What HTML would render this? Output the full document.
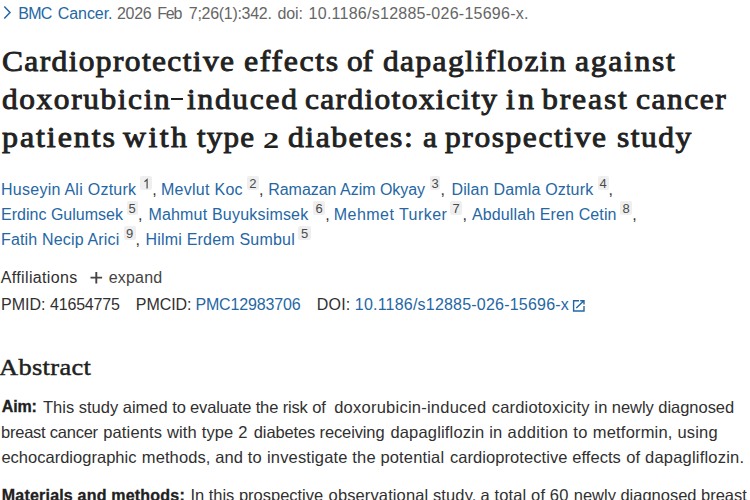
<!DOCTYPE html>
    <html><head><meta charset="utf-8">
    <style>
    html,body{margin:0;padding:0;background:#fff;width:750px;height:500px;overflow:hidden}
    body{position:relative;font-family:"Liberation Sans",sans-serif;color:#212121}
    .s{position:absolute;white-space:nowrap;line-height:0;height:0}
    .s span{display:inline-block;line-height:normal}
    .box{position:absolute;background:#efefef;border-radius:2px}
    .dg{position:absolute;font-size:13px;color:#4a4a4a;line-height:13px;white-space:nowrap}
    </style></head><body>
    
<div style="position:absolute;left:18.20px;top:5.32px;white-space:nowrap;font:normal 16px 'Liberation Sans',sans-serif;line-height:normal;color:#2567a4;letter-spacing:-0.700px;">BMC</div>
<div style="position:absolute;left:57.80px;top:5.32px;white-space:nowrap;font:normal 16px 'Liberation Sans',sans-serif;line-height:normal;color:#2567a4;letter-spacing:-0.083px;">Cancer.</div>
<div style="position:absolute;left:117.00px;top:5.32px;white-space:nowrap;font:normal 16px 'Liberation Sans',sans-serif;line-height:normal;color:#666666;letter-spacing:-0.298px;">2026</div>
<div style="position:absolute;left:157.20px;top:5.32px;white-space:nowrap;font:normal 16px 'Liberation Sans',sans-serif;line-height:normal;color:#666666;letter-spacing:-1.136px;">Feb</div>
<div style="position:absolute;left:188.80px;top:5.32px;white-space:nowrap;font:normal 16px 'Liberation Sans',sans-serif;line-height:normal;color:#666666;letter-spacing:-0.294px;">7;26(1):342.</div>
<div style="position:absolute;left:277.40px;top:5.32px;white-space:nowrap;font:normal 16px 'Liberation Sans',sans-serif;line-height:normal;color:#666666;letter-spacing:-0.117px;">doi:</div>
<div style="position:absolute;left:308.60px;top:5.32px;white-space:nowrap;font:normal 16px 'Liberation Sans',sans-serif;line-height:normal;color:#666666;letter-spacing:0.255px;">10.1186/s12885-026-15696-x.</div>
<div style="position:absolute;left:1.75px;top:43.77px;white-space:nowrap;font:normal 30px 'Liberation Serif',sans-serif;line-height:normal;color:#212121;letter-spacing:1.326px;transform-origin:0 0;transform:scaleX(1.0474);-webkit-text-stroke:0.9px #212121;">Cardioprotective</div>
<div style="position:absolute;left:243.94px;top:43.77px;white-space:nowrap;font:normal 30px 'Liberation Serif',sans-serif;line-height:normal;color:#212121;letter-spacing:1.557px;transform-origin:0 0;transform:scaleX(1.0613);-webkit-text-stroke:0.9px #212121;">effects</div>
<div style="position:absolute;left:346.56px;top:43.77px;white-space:nowrap;font:normal 30px 'Liberation Serif',sans-serif;line-height:normal;color:#212121;letter-spacing:-0.154px;transform-origin:0 0;transform:scaleX(1.0400);-webkit-text-stroke:0.9px #212121;">of</div>
<div style="position:absolute;left:382.55px;top:43.77px;white-space:nowrap;font:normal 30px 'Liberation Serif',sans-serif;line-height:normal;color:#212121;letter-spacing:1.335px;transform-origin:0 0;transform:scaleX(1.0479);-webkit-text-stroke:0.9px #212121;">dapagliflozin</div>
<div style="position:absolute;left:574.55px;top:43.77px;white-space:nowrap;font:normal 30px 'Liberation Serif',sans-serif;line-height:normal;color:#212121;letter-spacing:1.599px;transform-origin:0 0;transform:scaleX(1.0548);-webkit-text-stroke:0.9px #212121;">against</div>
<div style="position:absolute;left:1.75px;top:81.67px;white-space:nowrap;font:normal 30px 'Liberation Serif',sans-serif;line-height:normal;color:#212121;letter-spacing:1.535px;transform-origin:0 0;transform:scaleX(1.0457);-webkit-text-stroke:0.9px #212121;">doxorubicin</div>
<div style="position:absolute;left:187.20px;top:81.67px;white-space:nowrap;font:normal 30px 'Liberation Serif',sans-serif;line-height:normal;color:#212121;letter-spacing:1.685px;transform-origin:0 0;transform:scaleX(1.0450);-webkit-text-stroke:0.9px #212121;">induced</div>
<div style="position:absolute;left:305.15px;top:81.67px;white-space:nowrap;font:normal 30px 'Liberation Serif',sans-serif;line-height:normal;color:#212121;letter-spacing:1.271px;transform-origin:0 0;transform:scaleX(1.0487);-webkit-text-stroke:0.9px #212121;">cardiotoxicity</div>
<div style="position:absolute;left:506.00px;top:81.67px;white-space:nowrap;font:normal 30px 'Liberation Serif',sans-serif;line-height:normal;color:#212121;letter-spacing:3.405px;transform-origin:0 0;transform:scaleX(1.0471);-webkit-text-stroke:0.9px #212121;">in</div>
<div style="position:absolute;left:541.60px;top:81.67px;white-space:nowrap;font:normal 30px 'Liberation Serif',sans-serif;line-height:normal;color:#212121;letter-spacing:1.714px;transform-origin:0 0;transform:scaleX(1.0585);-webkit-text-stroke:0.9px #212121;">breast</div>
<div style="position:absolute;left:635.95px;top:81.67px;white-space:nowrap;font:normal 30px 'Liberation Serif',sans-serif;line-height:normal;color:#212121;letter-spacing:1.408px;transform-origin:0 0;transform:scaleX(1.0510);-webkit-text-stroke:0.9px #212121;">cancer</div>
<div style="position:absolute;left:1.60px;top:119.87px;white-space:nowrap;font:normal 30px 'Liberation Serif',sans-serif;line-height:normal;color:#212121;letter-spacing:1.790px;transform-origin:0 0;transform:scaleX(1.0669);-webkit-text-stroke:0.9px #212121;">patients</div>
<div style="position:absolute;left:123.00px;top:119.87px;white-space:nowrap;font:normal 30px 'Liberation Serif',sans-serif;line-height:normal;color:#212121;letter-spacing:2.348px;transform-origin:0 0;transform:scaleX(1.0600);-webkit-text-stroke:0.9px #212121;">with</div>
<div style="position:absolute;left:196.60px;top:119.87px;white-space:nowrap;font:normal 30px 'Liberation Serif',sans-serif;line-height:normal;color:#212121;letter-spacing:1.109px;transform-origin:0 0;transform:scaleX(1.0354);-webkit-text-stroke:0.9px #212121;">type</div>
<div style="position:absolute;left:287.94px;top:119.87px;white-space:nowrap;font:normal 30px 'Liberation Serif',sans-serif;line-height:normal;color:#212121;letter-spacing:1.426px;transform-origin:0 0;transform:scaleX(1.0567);-webkit-text-stroke:0.9px #212121;">diabetes:</div>
<div style="position:absolute;left:423.07px;top:119.87px;white-space:nowrap;font:normal 30px 'Liberation Serif',sans-serif;line-height:normal;color:#212121;letter-spacing:0.000px;transform-origin:0 0;transform:scaleX(1.0443);-webkit-text-stroke:0.9px #212121;">a</div>
<div style="position:absolute;left:444.80px;top:119.87px;white-space:nowrap;font:normal 30px 'Liberation Serif',sans-serif;line-height:normal;color:#212121;letter-spacing:1.516px;transform-origin:0 0;transform:scaleX(1.0488);-webkit-text-stroke:0.9px #212121;">prospective</div>
<div style="position:absolute;left:616.55px;top:119.87px;white-space:nowrap;font:normal 30px 'Liberation Serif',sans-serif;line-height:normal;color:#212121;letter-spacing:1.417px;transform-origin:0 0;transform:scaleX(1.0506);-webkit-text-stroke:0.9px #212121;">study</div>
<div style="position:absolute;left:263.00px;top:128.05px;white-space:nowrap;font:bold 22.5px 'Liberation Serif',sans-serif;line-height:normal;color:#212121;letter-spacing:0.000px;transform-origin:0 0;transform:scaleX(1.4318);">2</div>
<div style="position:absolute;left:1.00px;top:181.02px;white-space:nowrap;font:normal 16px 'Liberation Sans',sans-serif;line-height:normal;color:#2567a4;letter-spacing:0.259px;">Huseyin Ali Ozturk</div>
<div style="position:absolute;left:161.00px;top:181.02px;white-space:nowrap;font:normal 16px 'Liberation Sans',sans-serif;line-height:normal;color:#2567a4;letter-spacing:0.273px;">Mevlut Koc</div>
<div style="position:absolute;left:268.20px;top:181.02px;white-space:nowrap;font:normal 16px 'Liberation Sans',sans-serif;line-height:normal;color:#2567a4;letter-spacing:-0.027px;">Ramazan Azim Okyay</div>
<div style="position:absolute;left:451.40px;top:181.02px;white-space:nowrap;font:normal 16px 'Liberation Sans',sans-serif;line-height:normal;color:#2567a4;letter-spacing:0.182px;">Dilan Damla Ozturk</div>
<div style="position:absolute;left:1.00px;top:206.02px;white-space:nowrap;font:normal 16px 'Liberation Sans',sans-serif;line-height:normal;color:#2567a4;letter-spacing:0.013px;">Erdinc Gulumsek</div>
<div style="position:absolute;left:148.40px;top:206.02px;white-space:nowrap;font:normal 16px 'Liberation Sans',sans-serif;line-height:normal;color:#2567a4;letter-spacing:0.195px;">Mahmut Buyuksimsek</div>
<div style="position:absolute;left:333.80px;top:206.02px;white-space:nowrap;font:normal 16px 'Liberation Sans',sans-serif;line-height:normal;color:#2567a4;letter-spacing:0.454px;">Mehmet Turker</div>
<div style="position:absolute;left:472.00px;top:206.02px;white-space:nowrap;font:normal 16px 'Liberation Sans',sans-serif;line-height:normal;color:#2567a4;letter-spacing:0.121px;">Abdullah Eren Cetin</div>
<div style="position:absolute;left:1.00px;top:231.02px;white-space:nowrap;font:normal 16px 'Liberation Sans',sans-serif;line-height:normal;color:#2567a4;letter-spacing:0.167px;">Fatih Necip Arici</div>
<div style="position:absolute;left:145.40px;top:231.02px;white-space:nowrap;font:normal 16px 'Liberation Sans',sans-serif;line-height:normal;color:#2567a4;letter-spacing:0.208px;">Hilmi Erdem Sumbul</div>
<div style="position:absolute;left:0.80px;top:268.52px;white-space:nowrap;font:normal 16px 'Liberation Sans',sans-serif;line-height:normal;color:#303030;letter-spacing:0.342px;">Affiliations</div>
<div style="position:absolute;left:108.80px;top:268.52px;white-space:nowrap;font:normal 16px 'Liberation Sans',sans-serif;line-height:normal;color:#444;letter-spacing:0.161px;">expand</div>
<div style="position:absolute;left:1.00px;top:296.22px;white-space:nowrap;font:normal 16px 'Liberation Sans',sans-serif;line-height:normal;color:#303030;letter-spacing:0.000px;">PMID:</div>
<div style="position:absolute;left:50.00px;top:296.22px;white-space:nowrap;font:normal 16px 'Liberation Sans',sans-serif;line-height:normal;color:#303030;letter-spacing:-0.184px;">41654775</div>
<div style="position:absolute;left:135.80px;top:296.22px;white-space:nowrap;font:normal 16px 'Liberation Sans',sans-serif;line-height:normal;color:#303030;letter-spacing:-0.071px;">PMCID:</div>
<div style="position:absolute;left:195.40px;top:296.22px;white-space:nowrap;font:normal 16px 'Liberation Sans',sans-serif;line-height:normal;color:#2567a4;letter-spacing:-0.144px;">PMC12983706</div>
<div style="position:absolute;left:316.80px;top:296.22px;white-space:nowrap;font:normal 16px 'Liberation Sans',sans-serif;line-height:normal;color:#303030;letter-spacing:0.185px;">DOI:</div>
<div style="position:absolute;left:354.80px;top:296.22px;white-space:nowrap;font:normal 16px 'Liberation Sans',sans-serif;line-height:normal;color:#2567a4;letter-spacing:0.210px;">10.1186/s12885-026-15696-x</div>
<div style="position:absolute;left:-0.80px;top:353.76px;white-space:nowrap;font:normal 23.5px 'Liberation Serif',sans-serif;line-height:normal;color:#212121;letter-spacing:0.292px;transform-origin:0 0;transform:scaleX(1.1251);-webkit-text-stroke:0.45px #212121;">Abstract</div>
<div style="position:absolute;left:1.80px;top:398.32px;white-space:nowrap;font:bold 16px 'Liberation Sans',sans-serif;line-height:normal;color:#212121;letter-spacing:-0.209px;-webkit-text-stroke:0.3px #212121;">Aim:</div>
<div style="position:absolute;left:43.00px;top:397.87px;white-space:nowrap;font:normal 16.5px 'Liberation Sans',sans-serif;line-height:normal;color:#303030;letter-spacing:-0.005px;">This study aimed to</div>
<div style="position:absolute;left:190.00px;top:397.87px;white-space:nowrap;font:normal 16.5px 'Liberation Sans',sans-serif;line-height:normal;color:#303030;letter-spacing:-0.143px;">evaluate the risk of</div>
<div style="position:absolute;left:334.20px;top:397.87px;white-space:nowrap;font:normal 16.5px 'Liberation Sans',sans-serif;line-height:normal;color:#303030;letter-spacing:0.239px;">doxorubicin-induced</div>
<div style="position:absolute;left:491.80px;top:397.87px;white-space:nowrap;font:normal 16.5px 'Liberation Sans',sans-serif;line-height:normal;color:#303030;letter-spacing:0.174px;">cardiotoxicity in</div>
<div style="position:absolute;left:611.80px;top:397.87px;white-space:nowrap;font:normal 16.5px 'Liberation Sans',sans-serif;line-height:normal;color:#303030;letter-spacing:-0.039px;">newly diagnosed</div>
<div style="position:absolute;left:1.00px;top:423.07px;white-space:nowrap;font:normal 16.5px 'Liberation Sans',sans-serif;line-height:normal;color:#303030;letter-spacing:-0.239px;">breast cancer</div>
<div style="position:absolute;left:103.20px;top:423.07px;white-space:nowrap;font:normal 16.5px 'Liberation Sans',sans-serif;line-height:normal;color:#303030;letter-spacing:0.154px;">patients with type 2</div>
<div style="position:absolute;left:253.80px;top:423.07px;white-space:nowrap;font:normal 16.5px 'Liberation Sans',sans-serif;line-height:normal;color:#303030;letter-spacing:-0.131px;">diabetes receiving</div>
<div style="position:absolute;left:390.40px;top:423.07px;white-space:nowrap;font:normal 16.5px 'Liberation Sans',sans-serif;line-height:normal;color:#303030;letter-spacing:0.174px;">dapagliflozin in</div>
<div style="position:absolute;left:507.60px;top:423.07px;white-space:nowrap;font:normal 16.5px 'Liberation Sans',sans-serif;line-height:normal;color:#303030;letter-spacing:0.363px;">addition to</div>
<div style="position:absolute;left:592.80px;top:423.07px;white-space:nowrap;font:normal 16.5px 'Liberation Sans',sans-serif;line-height:normal;color:#303030;letter-spacing:0.188px;">metformin, using</div>
<div style="position:absolute;left:1.40px;top:448.27px;white-space:nowrap;font:normal 16.5px 'Liberation Sans',sans-serif;line-height:normal;color:#303030;letter-spacing:0.013px;">echocardiographic</div>
<div style="position:absolute;left:141.80px;top:448.27px;white-space:nowrap;font:normal 16.5px 'Liberation Sans',sans-serif;line-height:normal;color:#303030;letter-spacing:0.103px;">methods, and to</div>
<div style="position:absolute;left:267.00px;top:448.27px;white-space:nowrap;font:normal 16.5px 'Liberation Sans',sans-serif;line-height:normal;color:#303030;letter-spacing:0.154px;">investigate the potential</div>
<div style="position:absolute;left:450.00px;top:448.27px;white-space:nowrap;font:normal 16.5px 'Liberation Sans',sans-serif;line-height:normal;color:#303030;letter-spacing:0.064px;">cardioprotective effects</div>
<div style="position:absolute;left:626.20px;top:448.27px;white-space:nowrap;font:normal 16.5px 'Liberation Sans',sans-serif;line-height:normal;color:#303030;letter-spacing:0.195px;">of dapagliflozin.</div>
<div style="position:absolute;left:1.80px;top:486.52px;white-space:nowrap;font:bold 16px 'Liberation Sans',sans-serif;line-height:normal;color:#212121;letter-spacing:0.201px;-webkit-text-stroke:0.3px #212121;">Materials and methods:</div>
<div style="position:absolute;left:190.40px;top:486.07px;white-space:nowrap;font:normal 16.5px 'Liberation Sans',sans-serif;line-height:normal;color:#303030;letter-spacing:-0.011px;">In this prospective</div>
<div style="position:absolute;left:328.60px;top:486.07px;white-space:nowrap;font:normal 16.5px 'Liberation Sans',sans-serif;line-height:normal;color:#303030;letter-spacing:0.119px;">observational study,</div>
<div style="position:absolute;left:480.40px;top:486.07px;white-space:nowrap;font:normal 16.5px 'Liberation Sans',sans-serif;line-height:normal;color:#303030;letter-spacing:0.146px;">a total of 60</div>
<div style="position:absolute;left:573.80px;top:486.07px;white-space:nowrap;font:normal 16.5px 'Liberation Sans',sans-serif;line-height:normal;color:#303030;letter-spacing:-0.018px;">newly diagnosed breast</div>
<div class="box" style="left:140.1px;top:176.0px;width:12.0px;height:14px"></div>
<svg style="position:absolute;left:0;top:0" width="154" height="194"><path d="M144.50 181.70 L147.10 179.60 V188.50" fill="none" stroke="#4a4a4a" stroke-width="1.2"/></svg>
<div class="box" style="left:246.9px;top:176.0px;width:12.0px;height:14px"></div>
<div class="dg" style="left:249.3px;top:177.1px">2</div>
<div class="box" style="left:429.7px;top:176.0px;width:10.7px;height:14px"></div>
<div class="dg" style="left:431.4px;top:177.1px">3</div>
<div class="box" style="left:597.5px;top:176.0px;width:11.0px;height:14px"></div>
<div class="dg" style="left:599.4px;top:177.1px">4</div>
<div class="box" style="left:126.5px;top:201.0px;width:11.4px;height:14px"></div>
<div class="dg" style="left:128.6px;top:202.1px">5</div>
<div class="box" style="left:312.8px;top:201.0px;width:12.3px;height:14px"></div>
<div class="dg" style="left:315.4px;top:202.1px">6</div>
<div class="box" style="left:450.1px;top:201.0px;width:12.3px;height:14px"></div>
<div class="dg" style="left:452.6px;top:202.1px">7</div>
<div class="box" style="left:620.2px;top:201.0px;width:12.0px;height:14px"></div>
<div class="dg" style="left:622.6px;top:202.1px">8</div>
<div class="box" style="left:123.5px;top:226.0px;width:12.0px;height:14px"></div>
<div class="dg" style="left:125.9px;top:227.1px">9</div>
<div class="box" style="left:298.0px;top:226.0px;width:13.4px;height:14px"></div>
<div class="dg" style="left:301.1px;top:227.1px">5</div>
<div style="position:absolute;left:152.2px;top:180.8px;font-size:16px;line-height:normal;color:#333">,</div>
<div style="position:absolute;left:259.0px;top:180.8px;font-size:16px;line-height:normal;color:#333">,</div>
<div style="position:absolute;left:440.5px;top:180.8px;font-size:16px;line-height:normal;color:#333">,</div>
<div style="position:absolute;left:608.6px;top:180.8px;font-size:16px;line-height:normal;color:#333">,</div>
<div style="position:absolute;left:138.0px;top:205.8px;font-size:16px;line-height:normal;color:#333">,</div>
<div style="position:absolute;left:325.2px;top:205.8px;font-size:16px;line-height:normal;color:#333">,</div>
<div style="position:absolute;left:462.5px;top:205.8px;font-size:16px;line-height:normal;color:#333">,</div>
<div style="position:absolute;left:632.3px;top:205.8px;font-size:16px;line-height:normal;color:#333">,</div>
<div style="position:absolute;left:135.6px;top:230.8px;font-size:16px;line-height:normal;color:#333">,</div>
<svg style="position:absolute;left:0;top:0" width="20" height="24"><path d="M4.3 6.5 L10 12.5 L4.3 18.5" fill="none" stroke="#2567a4" stroke-width="1.5"/></svg>
<svg style="position:absolute;left:0;top:0" width="110" height="290"><path d="M90.5 277.6 H102.1 M96.3 271.9 V283.4" stroke="#444" stroke-width="1.9"/></svg>
<svg style="position:absolute;left:570px;top:298px" width="18" height="16"><path d="M9 2.7 H3.6 V13 H14 V8" fill="none" stroke="#2567a4" stroke-width="1.4"/><path d="M10.2 2.7 H14 V6.5 M6.3 10 L13.6 2.9" fill="none" stroke="#2567a4" stroke-width="1.4"/></svg>
<div style="position:absolute;left:170.8px;top:98px;width:12px;height:2px;background:#212121"></div>
</body></html>
